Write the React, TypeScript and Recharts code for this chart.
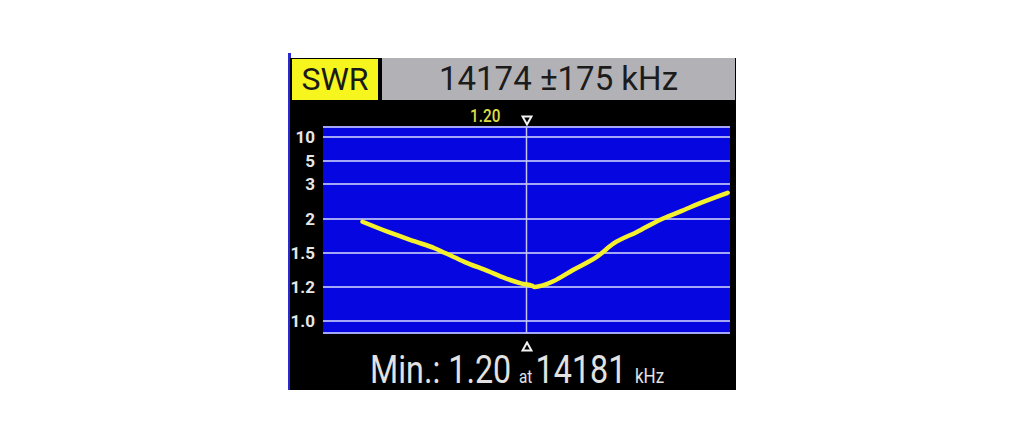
import React from "react";
import {
  LineChart,
  Line,
  XAxis,
  YAxis,
  CartesianGrid,
  ReferenceLine,
} from "recharts";

// sweep readings (kHz / SWR)
const freqs = [
  14033, 14055, 14078, 14095, 14104, 14121, 14141, 14155, 14170, 14179, 14181,
  14190, 14197, 14214, 14235, 14249, 14269, 14289, 14306, 14326, 14347,
];
const swrValues = [
  1.96, 1.81, 1.67, 1.57, 1.5, 1.42, 1.34, 1.28, 1.23, 1.21, 1.2, 1.22, 1.25,
  1.35, 1.47, 1.64, 1.81, 1.99, 2.21, 2.49, 2.75,
];

const swrTicks = [1.0, 1.2, 1.5, 2, 3, 5, 10];
const tickLabels = ["1.0", "1.2", "1.5", "2", "3", "5", "10"];

const centerFreq = 14174;
const span = 175;
const minSwr = "1.20";
const minFreq = "14181";

// the analyzer's y scale is piecewise: evenly spaced low grid, tighter above 3
const GRID_POS = [0, 34, 68, 102, 137, 160, 184];

function swrToPos(v: number) {
  for (let i = 0; i < swrTicks.length - 1; i++) {
    const a = swrTicks[i];
    const b = swrTicks[i + 1];
    if (v <= b || i === swrTicks.length - 2) {
      const t = (v - a) / (b - a);
      return GRID_POS[i] + t * (GRID_POS[i + 1] - GRID_POS[i]);
    }
  }
  return 0;
}

const data = freqs.map((f, i) => ({ freq: f, swr: swrValues[i] }));

const FONT = "Roboto, 'Liberation Sans', sans-serif";

function Tri({ up }: { up?: boolean }) {
  return (
    <svg width={12} height={11}>
      <polygon
        points={up ? "6,1.5 10.5,9.5 1.5,9.5" : "1.5,1.5 10.5,1.5 6,9.5"}
        fill="none"
        stroke="#f2f2f2"
        strokeWidth={2}
      />
    </svg>
  );
}

export default function App() {
  return (
    <div
      style={{
        position: "absolute",
        left: 0,
        top: 0,
        width: 1024,
        height: 444,
        background: "#ffffff",
        overflow: "hidden",
        fontFamily: FONT,
      }}
    >
      {/* left blue edge of the screen */}
      <div
        style={{
          position: "absolute",
          left: 288,
          top: 53,
          width: 3,
          height: 337,
          background: "#2a2ad0",
        }}
      />
      {/* screen body */}
      <div
        style={{
          position: "absolute",
          left: 290,
          top: 58,
          width: 446,
          height: 332,
          background: "#000000",
        }}
      />
      {/* header */}
      <div
        style={{
          position: "absolute",
          left: 292,
          top: 59,
          width: 86,
          height: 41,
          background: "#f6f61e",
          color: "#1a1a1a",
          fontSize: 32,
          lineHeight: "41px",
          textAlign: "center",
        }}
      >
        SWR
      </div>
      <div
        style={{
          position: "absolute",
          left: 382,
          top: 58,
          width: 353,
          height: 42,
          background: "#b2b2b6",
          color: "#1c1c1c",
          fontSize: 33,
          lineHeight: "42px",
          textAlign: "center",
        }}
      >
        {centerFreq} ±{span} kHz
      </div>

      {/* cursor value + marker */}
      <div
        style={{
          position: "absolute",
          left: 470,
          top: 106,
          fontSize: 18,
          fontWeight: 500,
          color: "#dede44",
          transform: "scaleX(0.85)",
          transformOrigin: "left",
          lineHeight: "20px",
        }}
      >
        {minSwr}
      </div>
      <div style={{ position: "absolute", left: 521, top: 111 }}>
        <Tri />
      </div>
      <div style={{ position: "absolute", left: 521, top: 337 }}>
        <Tri up />
      </div>

      <div style={{ position: "absolute", left: 288, top: 102 }}>
        <LineChart
          width={448}
          height={288}
          data={data}
          margin={{ top: 25, right: 6, bottom: 57, left: 0 }}
        >
          <CartesianGrid
            vertical={false}
            fill="#0606e0"
            stroke="#a4a6f6"
            strokeWidth={2}
          />
          <XAxis
            dataKey="freq"
            type="number"
            domain={[centerFreq - span, centerFreq + span]}
            hide
          />
          <YAxis
            type="number"
            width={35}
            domain={[-12, 194]}
            ticks={GRID_POS}
            interval={0}
            tickFormatter={(p: number) => tickLabels[GRID_POS.indexOf(p)]}
            tick={{
              fill: "#e6e6e6",
              fontSize: 17,
              fontWeight: 700,
              fontFamily: FONT,
            }}
            tickLine={false}
            axisLine={false}
          />
          <ReferenceLine x={centerFreq} stroke="#c4c4f4" strokeWidth={1.5} />
          <Line
            type="monotone"
            dataKey={(d: { swr: number }) => swrToPos(d.swr)}
            stroke="#f4f02c"
            strokeWidth={4.5}
            strokeLinecap="round"
            strokeLinejoin="round"
            dot={false}
            isAnimationActive={false}
          />
        </LineChart>
      </div>

      {/* min readout */}
      <div
        style={{
          position: "absolute",
          left: 370,
          top: 348,
          display: "flex",
          alignItems: "baseline",
          color: "#e2e2e2",
          transform: "scaleX(0.85)",
          transformOrigin: "left",
          whiteSpace: "nowrap",
          lineHeight: "44px",
        }}
      >
        <span style={{ fontSize: 38 }}>Min.: {minSwr}</span>
        <span style={{ fontSize: 18, margin: "0 4px 0 9px" }}>at</span>
        <span style={{ fontSize: 38 }}>{minFreq}</span>
        <span style={{ fontSize: 20, marginLeft: 10 }}>kHz</span>
      </div>
    </div>
  );
}
